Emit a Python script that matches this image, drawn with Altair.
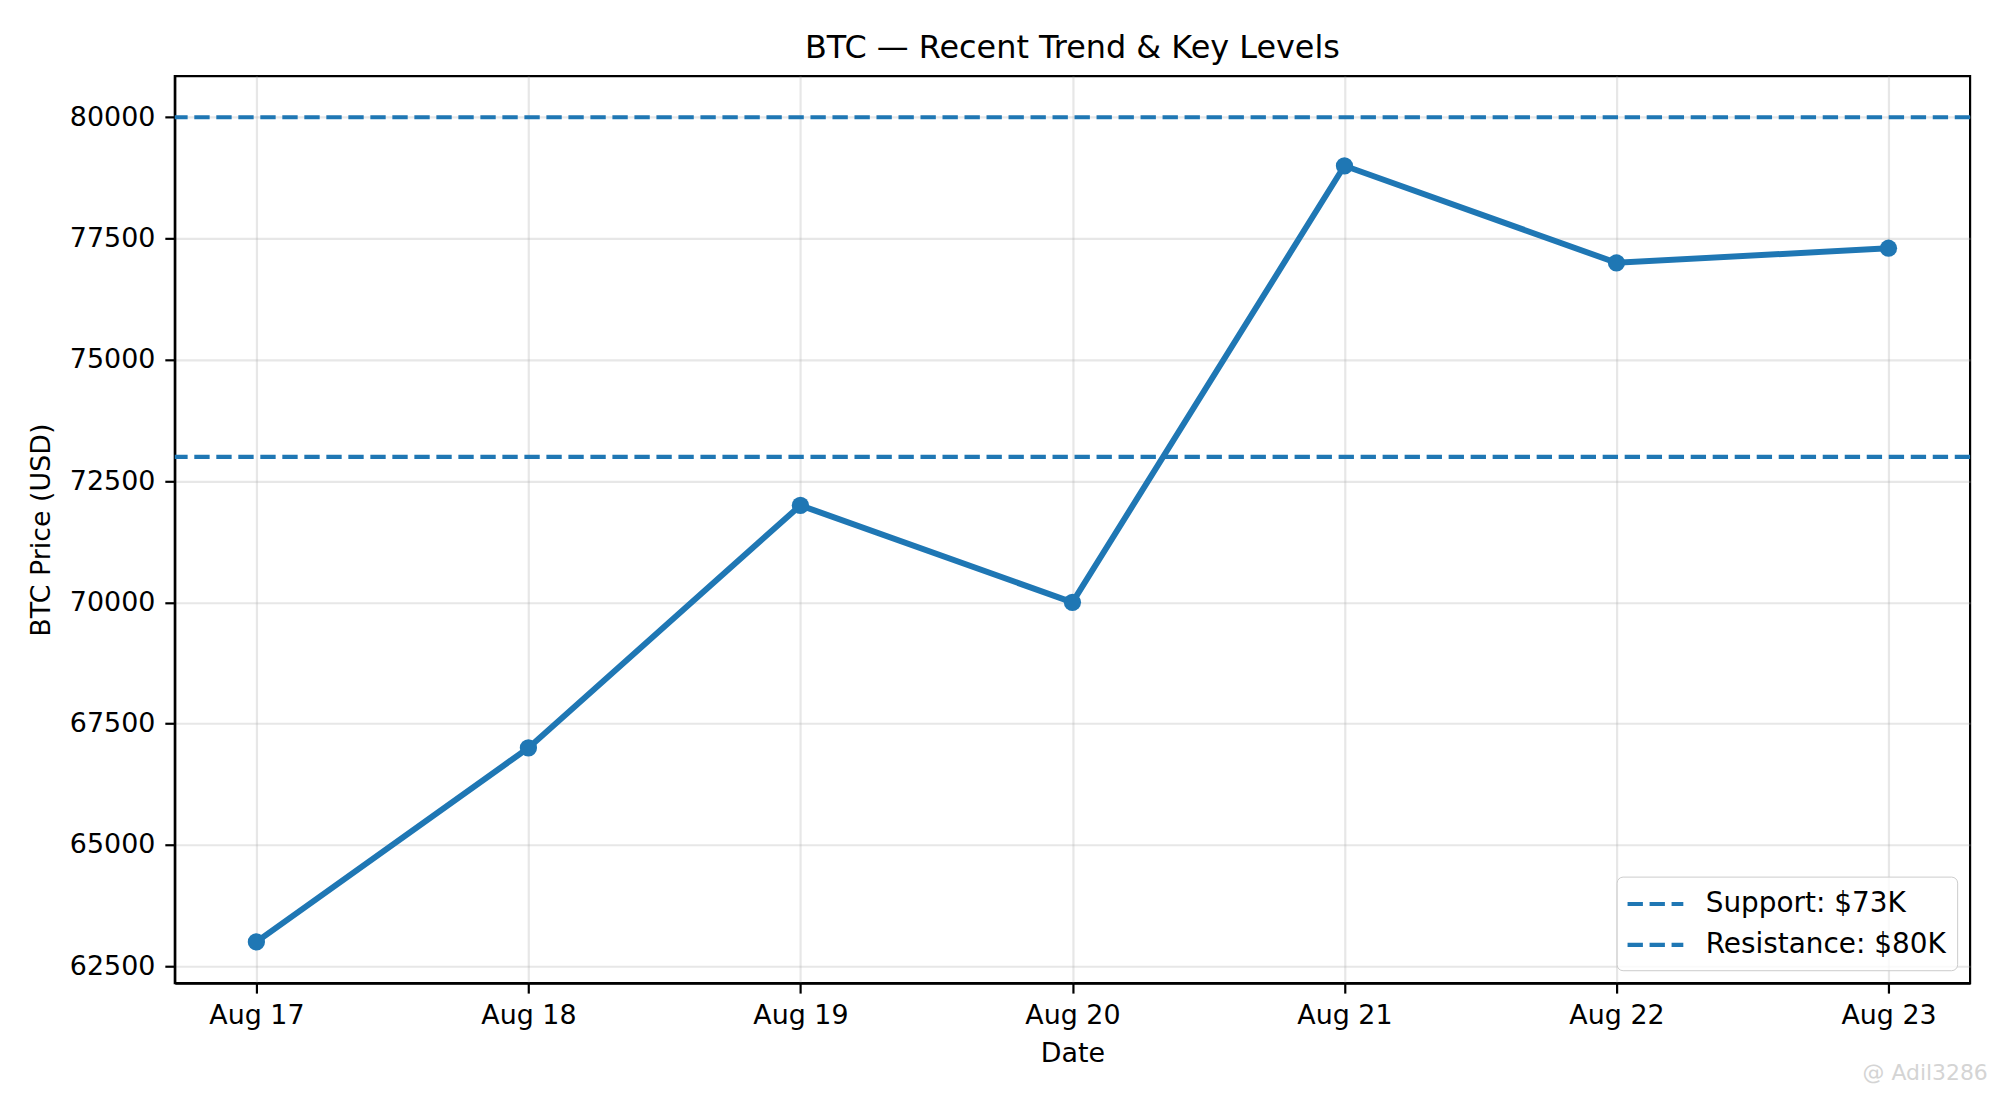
import json
import altair as alt
import pandas as pd

# ---- data ----
dates = ["Aug 17", "Aug 18", "Aug 19", "Aug 20", "Aug 21", "Aug 22", "Aug 23"]
prices = [63000, 67000, 72000, 70000, 79000, 77000, 77300]
level_labels = ["Support: $73K", "Resistance: $80K"]
level_values = [73000, 80000]
y_ticks = [62500, 65000, 67500, 70000, 72500, 75000, 77500, 80000]
watermark = ["@ Adil3286"]

df = pd.DataFrame({"idx": list(range(len(dates))), "date": dates, "price": prices})
lv = pd.DataFrame({"label": level_labels, "price": level_values})
wm = pd.DataFrame({"t": watermark})

BLUE = "#1f77b4"
FONT = "DejaVu Sans"
W, H = 1803, 911

label_expr = json.dumps(dates) + "[datum.value]"

x_enc = alt.X(
    "idx:Q",
    scale=alt.Scale(domain=[-0.3, 6.3], nice=False, zero=False),
    axis=alt.Axis(values=list(range(len(dates))), labelExpr=label_expr, title="Date"),
)
y_enc = alt.Y(
    "price:Q",
    scale=alt.Scale(domain=[62150, 80850], nice=False, zero=False),
    axis=alt.Axis(values=y_ticks, format="d", title="BTC Price (USD)"),
)

line = alt.Chart(df).mark_line(color=BLUE, strokeWidth=6).encode(x=x_enc, y=y_enc)
pts = alt.Chart(df).mark_point(filled=True, size=300, color=BLUE, opacity=1).encode(x=x_enc, y=y_enc)

rules = alt.Chart(lv).mark_rule(strokeDash=[15.4, 6.7], strokeWidth=4.2).encode(
    y=y_enc,
    color=alt.Color(
        "label:N",
        sort=level_labels,
        scale=alt.Scale(domain=level_labels, range=[BLUE, BLUE]),
        legend=alt.Legend(
            title=None,
            orient="none",
            legendX=1448,
            legendY=804,
            symbolType="M-2,0H2",
            symbolSize=784,
            symbolStrokeWidth=4.2,
            symbolDash=[15.4, 6.7],
            symbolOffset=11.5,
            labelFont=FONT,
            labelFontSize=28,
            labelColor="black",
            labelLimit=600,
            labelOffset=34,
            rowPadding=10,
            padding=11,
            fillColor="rgba(255,255,255,0.8)",
            strokeColor="#cccccc",
            cornerRadius=6,
        ),
    ),
)

wm_text = alt.Chart(wm).mark_text(
    align="left", baseline="alphabetic", fontSize=22, font=FONT, color="#d4d4d4"
).encode(text="t:N", x=alt.value(1695), y=alt.value(1008))

chart = (
    alt.layer(line, pts, rules, wm_text)
    .properties(
        width=W,
        height=H,
        autosize=alt.AutoSizeParams(type="none"),
        padding={"left": 167.5, "top": 66, "right": 22, "bottom": 110},
        title=alt.TitleParams(
            text="BTC — Recent Trend & Key Levels",
            font=FONT,
            fontSize=32,
            fontWeight="normal",
            color="black",
            anchor="middle",
            frame="group",
            baseline="alphabetic",
            offset=18,
            dy=32,
        ),
        background="white",
    )
    .configure_view(stroke="black", strokeWidth=2.2)
    .configure_axis(
        labelFont=FONT,
        labelFontSize=27,
        labelColor="black",
        titleFont=FONT,
        titleFontSize=27,
        titleFontWeight="normal",
        titleColor="black",
        domainColor="black",
        domainWidth=2.2,
        tickColor="black",
        tickWidth=2.2,
        tickSize=10,
        labelPadding=10,
        grid=True,
        gridColor="#b0b0b0",
        gridOpacity=0.3,
        gridWidth=2.2,
        labelFlush=False,
        labelOverlap=False,
    )
    .configure_axisX(titlePadding=12)
    .configure_axisY(titlePadding=14)
)

chart.save("out.html", embed_options={"renderer": "svg", "actions": False})
